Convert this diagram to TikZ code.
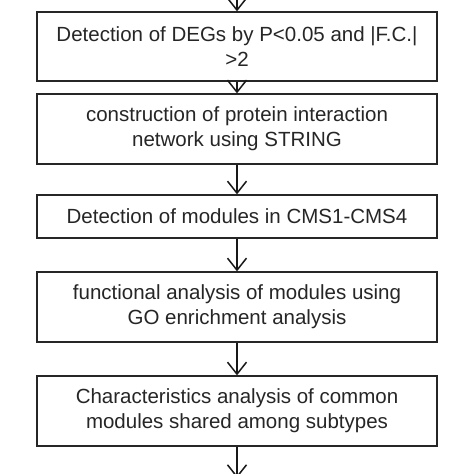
\documentclass[tikz,border=0pt]{standalone}
\usepackage{fontspec}
\setmainfont{Liberation Sans}
\usetikzlibrary{arrows.meta}
\begin{document}
\begin{tikzpicture}[x=1pt,y=1pt,
  stepbox/.style={draw=black!85, line width=1.3pt, minimum width=400pt, inner sep=0pt,
    align=center, font=\fontsize{20.5}{25}\selectfont, text=black!85},
  flow/.style={draw=black!90, line width=1.5pt, -{Straight Barb[length=12pt,width=19pt,line width=1.5pt]}}]
\useasboundingbox (0,0) rectangle (474,-474);
\fill[white] (0,0) rectangle (474,-474);
\node[stepbox, minimum height=69pt] (b1) at (237,-46.5) {Detection of DEGs by P<0.05 and |F.C.|\\>2};
\node[stepbox, minimum height=70pt] (b2) at (237,-129) {construction of protein interaction\\network using STRING};
\node[stepbox, minimum height=43pt] (b3) at (237,-216.5) {Detection of modules in CMS1-CMS4};
\node[stepbox, minimum height=70pt] (b4) at (237,-307) {functional analysis of modules using\\GO enrichment analysis};
\node[stepbox, minimum height=70pt] (b5) at (237,-411) {Characteristics analysis of common\\modules shared among subtypes};
\coordinate (top) at (237,0);
\coordinate (bot) at (237,-478);
\draw[flow] (top) -- (b1.north);
\draw[flow] (b1) -- (b2);
\draw[flow] (b2) -- (b3);
\draw[flow] (b3) -- (b4);
\draw[flow] (b4) -- (b5);
\draw[flow] (b5) -- (bot);
\end{tikzpicture}
\end{document}
